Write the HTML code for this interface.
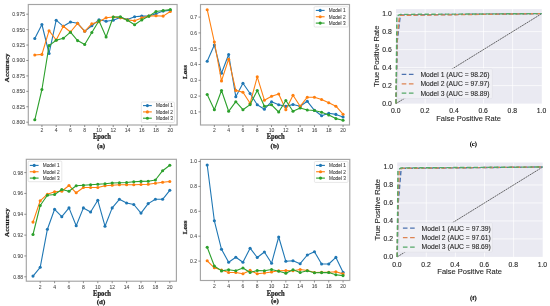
<!DOCTYPE html>
<html><head><meta charset="utf-8"><title>Figure</title>
<style>
html,body{margin:0;padding:0;background:#fff;}
body{width:550px;height:306px;overflow:hidden;}
svg{display:block;filter:blur(0.35px);}
.tk{font-family:"Liberation Sans",sans-serif;font-size:5.05px;fill:#404040;stroke:#404040;stroke-width:0.04px;}
.lg{font-family:"Liberation Sans",sans-serif;font-size:4.75px;fill:#333;stroke:#333;stroke-width:0.06px;}
.al{font-family:"Liberation Serif",serif;font-weight:bold;font-size:7.1px;fill:#1c1c1c;stroke:#1c1c1c;stroke-width:0.22px;}
.cap{font-family:"Liberation Serif",serif;font-weight:bold;font-size:7px;fill:#1c1c1c;stroke:#1c1c1c;stroke-width:0.25px;}
.cap2{font-family:"Liberation Serif",serif;font-weight:bold;font-size:6.6px;fill:#000;stroke:#000;stroke-width:0.12px;}
.rt{font-family:"Liberation Sans",sans-serif;font-size:6.8px;fill:#262626;stroke:#262626;stroke-width:0.12px;}
.ra{font-family:"Liberation Sans",sans-serif;font-size:7.5px;fill:#262626;stroke:#262626;stroke-width:0.1px;}
.rl{font-family:"Liberation Sans",sans-serif;font-size:6.75px;fill:#262626;stroke:#262626;stroke-width:0.1px;}
</style></head>
<body>
<svg width="550" height="306" viewBox="0 0 550 306">
<polyline points="34.8,38.5 41.93,24.5 49.06,53.5 56.19,20.2 63.32,26.3 70.45,22 77.58,23.3 84.71,31.2 91.84,25.8 98.97,19.7 106.1,21.2 113.23,20.3 120.36,17.6 127.49,19.6 134.62,16.7 141.75,16.1 148.88,16.1 156.01,13.7 163.14,11.1 170.27,10.2" fill="none" stroke="#1f77b4" stroke-width="1.1" stroke-linejoin="round"/>
<circle cx="34.8" cy="38.5" r="1.55" fill="#1f77b4"/>
<circle cx="41.93" cy="24.5" r="1.55" fill="#1f77b4"/>
<circle cx="49.06" cy="53.5" r="1.55" fill="#1f77b4"/>
<circle cx="56.19" cy="20.2" r="1.55" fill="#1f77b4"/>
<circle cx="63.32" cy="26.3" r="1.55" fill="#1f77b4"/>
<circle cx="70.45" cy="22" r="1.55" fill="#1f77b4"/>
<circle cx="77.58" cy="23.3" r="1.55" fill="#1f77b4"/>
<circle cx="84.71" cy="31.2" r="1.55" fill="#1f77b4"/>
<circle cx="91.84" cy="25.8" r="1.55" fill="#1f77b4"/>
<circle cx="98.97" cy="19.7" r="1.55" fill="#1f77b4"/>
<circle cx="106.1" cy="21.2" r="1.55" fill="#1f77b4"/>
<circle cx="113.23" cy="20.3" r="1.55" fill="#1f77b4"/>
<circle cx="120.36" cy="17.6" r="1.55" fill="#1f77b4"/>
<circle cx="127.49" cy="19.6" r="1.55" fill="#1f77b4"/>
<circle cx="134.62" cy="16.7" r="1.55" fill="#1f77b4"/>
<circle cx="141.75" cy="16.1" r="1.55" fill="#1f77b4"/>
<circle cx="148.88" cy="16.1" r="1.55" fill="#1f77b4"/>
<circle cx="156.01" cy="13.7" r="1.55" fill="#1f77b4"/>
<circle cx="163.14" cy="11.1" r="1.55" fill="#1f77b4"/>
<circle cx="170.27" cy="10.2" r="1.55" fill="#1f77b4"/>
<polyline points="34.8,55 41.93,54.4 49.06,30.7 56.19,40 63.32,26.2 70.45,32 77.58,23.3 84.71,31.3 91.84,23.7 98.97,21.7 106.1,17.8 113.23,17 120.36,17.8 127.49,19.9 134.62,20.7 141.75,17.9 148.88,16.1 156.01,15.7 163.14,16.1 170.27,11.5" fill="none" stroke="#ff7f0e" stroke-width="1.1" stroke-linejoin="round"/>
<circle cx="34.8" cy="55" r="1.55" fill="#ff7f0e"/>
<circle cx="41.93" cy="54.4" r="1.55" fill="#ff7f0e"/>
<circle cx="49.06" cy="30.7" r="1.55" fill="#ff7f0e"/>
<circle cx="56.19" cy="40" r="1.55" fill="#ff7f0e"/>
<circle cx="63.32" cy="26.2" r="1.55" fill="#ff7f0e"/>
<circle cx="70.45" cy="32" r="1.55" fill="#ff7f0e"/>
<circle cx="77.58" cy="23.3" r="1.55" fill="#ff7f0e"/>
<circle cx="84.71" cy="31.3" r="1.55" fill="#ff7f0e"/>
<circle cx="91.84" cy="23.7" r="1.55" fill="#ff7f0e"/>
<circle cx="98.97" cy="21.7" r="1.55" fill="#ff7f0e"/>
<circle cx="106.1" cy="17.8" r="1.55" fill="#ff7f0e"/>
<circle cx="113.23" cy="17" r="1.55" fill="#ff7f0e"/>
<circle cx="120.36" cy="17.8" r="1.55" fill="#ff7f0e"/>
<circle cx="127.49" cy="19.9" r="1.55" fill="#ff7f0e"/>
<circle cx="134.62" cy="20.7" r="1.55" fill="#ff7f0e"/>
<circle cx="141.75" cy="17.9" r="1.55" fill="#ff7f0e"/>
<circle cx="148.88" cy="16.1" r="1.55" fill="#ff7f0e"/>
<circle cx="156.01" cy="15.7" r="1.55" fill="#ff7f0e"/>
<circle cx="163.14" cy="16.1" r="1.55" fill="#ff7f0e"/>
<circle cx="170.27" cy="11.5" r="1.55" fill="#ff7f0e"/>
<polyline points="34.8,119.8 41.93,89.5 49.06,45.6 56.19,40.3 63.32,38.3 70.45,32.2 77.58,40.6 84.71,44.5 91.84,32.5 98.97,20.8 106.1,37 113.23,17 120.36,16.7 127.49,20.3 134.62,24.8 141.75,19.9 148.88,16.1 156.01,11.5 163.14,10.5 170.27,9.5" fill="none" stroke="#2ca02c" stroke-width="1.1" stroke-linejoin="round"/>
<circle cx="34.8" cy="119.8" r="1.55" fill="#2ca02c"/>
<circle cx="41.93" cy="89.5" r="1.55" fill="#2ca02c"/>
<circle cx="49.06" cy="45.6" r="1.55" fill="#2ca02c"/>
<circle cx="56.19" cy="40.3" r="1.55" fill="#2ca02c"/>
<circle cx="63.32" cy="38.3" r="1.55" fill="#2ca02c"/>
<circle cx="70.45" cy="32.2" r="1.55" fill="#2ca02c"/>
<circle cx="77.58" cy="40.6" r="1.55" fill="#2ca02c"/>
<circle cx="84.71" cy="44.5" r="1.55" fill="#2ca02c"/>
<circle cx="91.84" cy="32.5" r="1.55" fill="#2ca02c"/>
<circle cx="98.97" cy="20.8" r="1.55" fill="#2ca02c"/>
<circle cx="106.1" cy="37" r="1.55" fill="#2ca02c"/>
<circle cx="113.23" cy="17" r="1.55" fill="#2ca02c"/>
<circle cx="120.36" cy="16.7" r="1.55" fill="#2ca02c"/>
<circle cx="127.49" cy="20.3" r="1.55" fill="#2ca02c"/>
<circle cx="134.62" cy="24.8" r="1.55" fill="#2ca02c"/>
<circle cx="141.75" cy="19.9" r="1.55" fill="#2ca02c"/>
<circle cx="148.88" cy="16.1" r="1.55" fill="#2ca02c"/>
<circle cx="156.01" cy="11.5" r="1.55" fill="#2ca02c"/>
<circle cx="163.14" cy="10.5" r="1.55" fill="#2ca02c"/>
<circle cx="170.27" cy="9.5" r="1.55" fill="#2ca02c"/>
<rect x="28.3" y="4.5" width="148.8" height="120.5" fill="none" stroke="#a4a4a4" stroke-width="1.15"/>
<line x1="26.3" y1="122.2" x2="28.3" y2="122.2" stroke="#7a7a7a" stroke-width="0.85"/>
<text x="25" y="124.1" text-anchor="end" class="tk">0.800</text>
<line x1="26.3" y1="106.77" x2="28.3" y2="106.77" stroke="#7a7a7a" stroke-width="0.85"/>
<text x="25" y="108.67" text-anchor="end" class="tk">0.825</text>
<line x1="26.3" y1="91.34" x2="28.3" y2="91.34" stroke="#7a7a7a" stroke-width="0.85"/>
<text x="25" y="93.24" text-anchor="end" class="tk">0.850</text>
<line x1="26.3" y1="75.91" x2="28.3" y2="75.91" stroke="#7a7a7a" stroke-width="0.85"/>
<text x="25" y="77.81" text-anchor="end" class="tk">0.875</text>
<line x1="26.3" y1="60.48" x2="28.3" y2="60.48" stroke="#7a7a7a" stroke-width="0.85"/>
<text x="25" y="62.38" text-anchor="end" class="tk">0.900</text>
<line x1="26.3" y1="45.05" x2="28.3" y2="45.05" stroke="#7a7a7a" stroke-width="0.85"/>
<text x="25" y="46.95" text-anchor="end" class="tk">0.925</text>
<line x1="26.3" y1="29.62" x2="28.3" y2="29.62" stroke="#7a7a7a" stroke-width="0.85"/>
<text x="25" y="31.52" text-anchor="end" class="tk">0.950</text>
<line x1="26.3" y1="14.19" x2="28.3" y2="14.19" stroke="#7a7a7a" stroke-width="0.85"/>
<text x="25" y="16.09" text-anchor="end" class="tk">0.975</text>
<line x1="41.93" y1="125" x2="41.93" y2="127" stroke="#7a7a7a" stroke-width="0.85"/>
<text x="41.93" y="132.1" text-anchor="middle" class="tk">2</text>
<line x1="56.19" y1="125" x2="56.19" y2="127" stroke="#7a7a7a" stroke-width="0.85"/>
<text x="56.19" y="132.1" text-anchor="middle" class="tk">4</text>
<line x1="70.45" y1="125" x2="70.45" y2="127" stroke="#7a7a7a" stroke-width="0.85"/>
<text x="70.45" y="132.1" text-anchor="middle" class="tk">6</text>
<line x1="84.71" y1="125" x2="84.71" y2="127" stroke="#7a7a7a" stroke-width="0.85"/>
<text x="84.71" y="132.1" text-anchor="middle" class="tk">8</text>
<line x1="98.97" y1="125" x2="98.97" y2="127" stroke="#7a7a7a" stroke-width="0.85"/>
<text x="98.97" y="132.1" text-anchor="middle" class="tk">10</text>
<line x1="113.23" y1="125" x2="113.23" y2="127" stroke="#7a7a7a" stroke-width="0.85"/>
<text x="113.23" y="132.1" text-anchor="middle" class="tk">12</text>
<line x1="127.49" y1="125" x2="127.49" y2="127" stroke="#7a7a7a" stroke-width="0.85"/>
<text x="127.49" y="132.1" text-anchor="middle" class="tk">14</text>
<line x1="141.75" y1="125" x2="141.75" y2="127" stroke="#7a7a7a" stroke-width="0.85"/>
<text x="141.75" y="132.1" text-anchor="middle" class="tk">16</text>
<line x1="156.01" y1="125" x2="156.01" y2="127" stroke="#7a7a7a" stroke-width="0.85"/>
<text x="156.01" y="132.1" text-anchor="middle" class="tk">18</text>
<line x1="170.27" y1="125" x2="170.27" y2="127" stroke="#7a7a7a" stroke-width="0.85"/>
<text x="170.27" y="132.1" text-anchor="middle" class="tk">20</text>
<text transform="translate(101.9,139.3) scale(1,1.12)" text-anchor="middle" class="al" style="font-size:6.6px">Epoch</text>
<text x="101.1" y="147.6" text-anchor="middle" class="cap">(a)</text>
<text transform="translate(8.6,67.8) rotate(-90)" text-anchor="middle" class="al">Accuracy</text>
<rect x="141.3" y="102" width="33.1" height="20.5" rx="1" fill="#fff" fill-opacity="0.85" stroke="#d6d6d6" stroke-width="0.6"/>
<line x1="143" y1="105.6" x2="151.8" y2="105.6" stroke="#1f77b4" stroke-width="1.1"/>
<circle cx="147.4" cy="105.6" r="1.55" fill="#1f77b4"/>
<text x="155.9" y="107.4" class="lg">Model 1</text>
<line x1="143" y1="111.9" x2="151.8" y2="111.9" stroke="#ff7f0e" stroke-width="1.1"/>
<circle cx="147.4" cy="111.9" r="1.55" fill="#ff7f0e"/>
<text x="155.9" y="113.7" class="lg">Model 2</text>
<line x1="143" y1="118.2" x2="151.8" y2="118.2" stroke="#2ca02c" stroke-width="1.1"/>
<circle cx="147.4" cy="118.2" r="1.55" fill="#2ca02c"/>
<text x="155.9" y="120" class="lg">Model 3</text>
<polyline points="207.2,61.2 214.35,45 221.5,73.3 228.65,54.5 235.8,96.7 242.95,83.2 250.1,93.5 257.25,104.7 264.4,109.2 271.55,101.7 278.7,104.7 285.85,106.4 293,104.5 300.15,106.3 307.3,101.3 314.45,110.3 321.6,115.8 328.75,113.2 335.9,114.4 343.05,116.9" fill="none" stroke="#1f77b4" stroke-width="1.1" stroke-linejoin="round"/>
<circle cx="207.2" cy="61.2" r="1.55" fill="#1f77b4"/>
<circle cx="214.35" cy="45" r="1.55" fill="#1f77b4"/>
<circle cx="221.5" cy="73.3" r="1.55" fill="#1f77b4"/>
<circle cx="228.65" cy="54.5" r="1.55" fill="#1f77b4"/>
<circle cx="235.8" cy="96.7" r="1.55" fill="#1f77b4"/>
<circle cx="242.95" cy="83.2" r="1.55" fill="#1f77b4"/>
<circle cx="250.1" cy="93.5" r="1.55" fill="#1f77b4"/>
<circle cx="257.25" cy="104.7" r="1.55" fill="#1f77b4"/>
<circle cx="264.4" cy="109.2" r="1.55" fill="#1f77b4"/>
<circle cx="271.55" cy="101.7" r="1.55" fill="#1f77b4"/>
<circle cx="278.7" cy="104.7" r="1.55" fill="#1f77b4"/>
<circle cx="285.85" cy="106.4" r="1.55" fill="#1f77b4"/>
<circle cx="293" cy="104.5" r="1.55" fill="#1f77b4"/>
<circle cx="300.15" cy="106.3" r="1.55" fill="#1f77b4"/>
<circle cx="307.3" cy="101.3" r="1.55" fill="#1f77b4"/>
<circle cx="314.45" cy="110.3" r="1.55" fill="#1f77b4"/>
<circle cx="321.6" cy="115.8" r="1.55" fill="#1f77b4"/>
<circle cx="328.75" cy="113.2" r="1.55" fill="#1f77b4"/>
<circle cx="335.9" cy="114.4" r="1.55" fill="#1f77b4"/>
<circle cx="343.05" cy="116.9" r="1.55" fill="#1f77b4"/>
<polyline points="207.2,9.7 214.35,42 221.5,80.9 228.65,59.2 235.8,90.4 242.95,92.2 250.1,103.3 257.25,76.8 264.4,100.2 271.55,96.2 278.7,94 285.85,109.7 293,95.2 300.15,106.3 307.3,97.2 314.45,97.2 321.6,99.5 328.75,102.7 335.9,106.2 343.05,114.2" fill="none" stroke="#ff7f0e" stroke-width="1.1" stroke-linejoin="round"/>
<circle cx="207.2" cy="9.7" r="1.55" fill="#ff7f0e"/>
<circle cx="214.35" cy="42" r="1.55" fill="#ff7f0e"/>
<circle cx="221.5" cy="80.9" r="1.55" fill="#ff7f0e"/>
<circle cx="228.65" cy="59.2" r="1.55" fill="#ff7f0e"/>
<circle cx="235.8" cy="90.4" r="1.55" fill="#ff7f0e"/>
<circle cx="242.95" cy="92.2" r="1.55" fill="#ff7f0e"/>
<circle cx="250.1" cy="103.3" r="1.55" fill="#ff7f0e"/>
<circle cx="257.25" cy="76.8" r="1.55" fill="#ff7f0e"/>
<circle cx="264.4" cy="100.2" r="1.55" fill="#ff7f0e"/>
<circle cx="271.55" cy="96.2" r="1.55" fill="#ff7f0e"/>
<circle cx="278.7" cy="94" r="1.55" fill="#ff7f0e"/>
<circle cx="285.85" cy="109.7" r="1.55" fill="#ff7f0e"/>
<circle cx="293" cy="95.2" r="1.55" fill="#ff7f0e"/>
<circle cx="300.15" cy="106.3" r="1.55" fill="#ff7f0e"/>
<circle cx="307.3" cy="97.2" r="1.55" fill="#ff7f0e"/>
<circle cx="314.45" cy="97.2" r="1.55" fill="#ff7f0e"/>
<circle cx="321.6" cy="99.5" r="1.55" fill="#ff7f0e"/>
<circle cx="328.75" cy="102.7" r="1.55" fill="#ff7f0e"/>
<circle cx="335.9" cy="106.2" r="1.55" fill="#ff7f0e"/>
<circle cx="343.05" cy="114.2" r="1.55" fill="#ff7f0e"/>
<polyline points="207.2,94.5 214.35,109.8 221.5,90.5 228.65,111.3 235.8,101.7 242.95,109.7 250.1,104.6 257.25,90.5 264.4,106.3 271.55,104.8 278.7,112 285.85,100.5 293,111.3 300.15,108 307.3,110 314.45,110.5 321.6,112.3 328.75,115 335.9,118.6 343.05,120.2" fill="none" stroke="#2ca02c" stroke-width="1.1" stroke-linejoin="round"/>
<circle cx="207.2" cy="94.5" r="1.55" fill="#2ca02c"/>
<circle cx="214.35" cy="109.8" r="1.55" fill="#2ca02c"/>
<circle cx="221.5" cy="90.5" r="1.55" fill="#2ca02c"/>
<circle cx="228.65" cy="111.3" r="1.55" fill="#2ca02c"/>
<circle cx="235.8" cy="101.7" r="1.55" fill="#2ca02c"/>
<circle cx="242.95" cy="109.7" r="1.55" fill="#2ca02c"/>
<circle cx="250.1" cy="104.6" r="1.55" fill="#2ca02c"/>
<circle cx="257.25" cy="90.5" r="1.55" fill="#2ca02c"/>
<circle cx="264.4" cy="106.3" r="1.55" fill="#2ca02c"/>
<circle cx="271.55" cy="104.8" r="1.55" fill="#2ca02c"/>
<circle cx="278.7" cy="112" r="1.55" fill="#2ca02c"/>
<circle cx="285.85" cy="100.5" r="1.55" fill="#2ca02c"/>
<circle cx="293" cy="111.3" r="1.55" fill="#2ca02c"/>
<circle cx="300.15" cy="108" r="1.55" fill="#2ca02c"/>
<circle cx="307.3" cy="110" r="1.55" fill="#2ca02c"/>
<circle cx="314.45" cy="110.5" r="1.55" fill="#2ca02c"/>
<circle cx="321.6" cy="112.3" r="1.55" fill="#2ca02c"/>
<circle cx="328.75" cy="115" r="1.55" fill="#2ca02c"/>
<circle cx="335.9" cy="118.6" r="1.55" fill="#2ca02c"/>
<circle cx="343.05" cy="120.2" r="1.55" fill="#2ca02c"/>
<rect x="200.5" y="4.5" width="149" height="120.5" fill="none" stroke="#a4a4a4" stroke-width="1.15"/>
<line x1="198.5" y1="111.9" x2="200.5" y2="111.9" stroke="#7a7a7a" stroke-width="0.85"/>
<text x="197.2" y="113.8" text-anchor="end" class="tk">0.1</text>
<line x1="198.5" y1="96.1" x2="200.5" y2="96.1" stroke="#7a7a7a" stroke-width="0.85"/>
<text x="197.2" y="98" text-anchor="end" class="tk">0.2</text>
<line x1="198.5" y1="80.3" x2="200.5" y2="80.3" stroke="#7a7a7a" stroke-width="0.85"/>
<text x="197.2" y="82.2" text-anchor="end" class="tk">0.3</text>
<line x1="198.5" y1="64.5" x2="200.5" y2="64.5" stroke="#7a7a7a" stroke-width="0.85"/>
<text x="197.2" y="66.4" text-anchor="end" class="tk">0.4</text>
<line x1="198.5" y1="48.7" x2="200.5" y2="48.7" stroke="#7a7a7a" stroke-width="0.85"/>
<text x="197.2" y="50.6" text-anchor="end" class="tk">0.5</text>
<line x1="198.5" y1="32.9" x2="200.5" y2="32.9" stroke="#7a7a7a" stroke-width="0.85"/>
<text x="197.2" y="34.8" text-anchor="end" class="tk">0.6</text>
<line x1="198.5" y1="17.1" x2="200.5" y2="17.1" stroke="#7a7a7a" stroke-width="0.85"/>
<text x="197.2" y="19" text-anchor="end" class="tk">0.7</text>
<line x1="214.35" y1="125" x2="214.35" y2="127" stroke="#7a7a7a" stroke-width="0.85"/>
<text x="214.35" y="132.1" text-anchor="middle" class="tk">2</text>
<line x1="228.65" y1="125" x2="228.65" y2="127" stroke="#7a7a7a" stroke-width="0.85"/>
<text x="228.65" y="132.1" text-anchor="middle" class="tk">4</text>
<line x1="242.95" y1="125" x2="242.95" y2="127" stroke="#7a7a7a" stroke-width="0.85"/>
<text x="242.95" y="132.1" text-anchor="middle" class="tk">6</text>
<line x1="257.25" y1="125" x2="257.25" y2="127" stroke="#7a7a7a" stroke-width="0.85"/>
<text x="257.25" y="132.1" text-anchor="middle" class="tk">8</text>
<line x1="271.55" y1="125" x2="271.55" y2="127" stroke="#7a7a7a" stroke-width="0.85"/>
<text x="271.55" y="132.1" text-anchor="middle" class="tk">10</text>
<line x1="285.85" y1="125" x2="285.85" y2="127" stroke="#7a7a7a" stroke-width="0.85"/>
<text x="285.85" y="132.1" text-anchor="middle" class="tk">12</text>
<line x1="300.15" y1="125" x2="300.15" y2="127" stroke="#7a7a7a" stroke-width="0.85"/>
<text x="300.15" y="132.1" text-anchor="middle" class="tk">14</text>
<line x1="314.45" y1="125" x2="314.45" y2="127" stroke="#7a7a7a" stroke-width="0.85"/>
<text x="314.45" y="132.1" text-anchor="middle" class="tk">16</text>
<line x1="328.75" y1="125" x2="328.75" y2="127" stroke="#7a7a7a" stroke-width="0.85"/>
<text x="328.75" y="132.1" text-anchor="middle" class="tk">18</text>
<line x1="343.05" y1="125" x2="343.05" y2="127" stroke="#7a7a7a" stroke-width="0.85"/>
<text x="343.05" y="132.1" text-anchor="middle" class="tk">20</text>
<text transform="translate(275.7,139.3) scale(1,1.12)" text-anchor="middle" class="al" style="font-size:6.6px">Epoch</text>
<text x="274.9" y="147.8" text-anchor="middle" class="cap">(b)</text>
<text transform="translate(186.6,72) rotate(-90)" text-anchor="middle" class="al">Loss</text>
<rect x="314.1" y="6.7" width="34.2" height="20.3" rx="1" fill="#fff" fill-opacity="0.85" stroke="#d6d6d6" stroke-width="0.6"/>
<line x1="315.8" y1="10.4" x2="324.6" y2="10.4" stroke="#1f77b4" stroke-width="1.1"/>
<circle cx="320.2" cy="10.4" r="1.55" fill="#1f77b4"/>
<text x="328.7" y="12.2" class="lg">Model 1</text>
<line x1="315.8" y1="16.75" x2="324.6" y2="16.75" stroke="#ff7f0e" stroke-width="1.1"/>
<circle cx="320.2" cy="16.75" r="1.55" fill="#ff7f0e"/>
<text x="328.7" y="18.55" class="lg">Model 2</text>
<line x1="315.8" y1="23.1" x2="324.6" y2="23.1" stroke="#2ca02c" stroke-width="1.1"/>
<circle cx="320.2" cy="23.1" r="1.55" fill="#2ca02c"/>
<text x="328.7" y="24.9" class="lg">Model 3</text>
<polyline points="33,276.1 40.2,267.3 47.4,229.2 54.6,209.3 61.8,216.7 69,207.9 76.2,225.8 83.4,207.9 90.6,212 97.8,200.3 105,226.2 112.2,207.9 119.4,199.3 126.6,203 133.8,204.5 141,213.1 148.2,203.6 155.4,199.2 162.6,199.3 169.8,190.3" fill="none" stroke="#1f77b4" stroke-width="1.1" stroke-linejoin="round"/>
<circle cx="33" cy="276.1" r="1.55" fill="#1f77b4"/>
<circle cx="40.2" cy="267.3" r="1.55" fill="#1f77b4"/>
<circle cx="47.4" cy="229.2" r="1.55" fill="#1f77b4"/>
<circle cx="54.6" cy="209.3" r="1.55" fill="#1f77b4"/>
<circle cx="61.8" cy="216.7" r="1.55" fill="#1f77b4"/>
<circle cx="69" cy="207.9" r="1.55" fill="#1f77b4"/>
<circle cx="76.2" cy="225.8" r="1.55" fill="#1f77b4"/>
<circle cx="83.4" cy="207.9" r="1.55" fill="#1f77b4"/>
<circle cx="90.6" cy="212" r="1.55" fill="#1f77b4"/>
<circle cx="97.8" cy="200.3" r="1.55" fill="#1f77b4"/>
<circle cx="105" cy="226.2" r="1.55" fill="#1f77b4"/>
<circle cx="112.2" cy="207.9" r="1.55" fill="#1f77b4"/>
<circle cx="119.4" cy="199.3" r="1.55" fill="#1f77b4"/>
<circle cx="126.6" cy="203" r="1.55" fill="#1f77b4"/>
<circle cx="133.8" cy="204.5" r="1.55" fill="#1f77b4"/>
<circle cx="141" cy="213.1" r="1.55" fill="#1f77b4"/>
<circle cx="148.2" cy="203.6" r="1.55" fill="#1f77b4"/>
<circle cx="155.4" cy="199.2" r="1.55" fill="#1f77b4"/>
<circle cx="162.6" cy="199.3" r="1.55" fill="#1f77b4"/>
<circle cx="169.8" cy="190.3" r="1.55" fill="#1f77b4"/>
<polyline points="33,222.1 40.2,200.8 47.4,194.2 54.6,191.7 61.8,191.2 69,185.5 76.2,192.8 83.4,187.5 90.6,187.5 97.8,187.5 105,185.8 112.2,185.3 119.4,184.7 126.6,184.7 133.8,184.7 141,184.5 148.2,184.2 155.4,183.2 162.6,182.2 169.8,181.5" fill="none" stroke="#ff7f0e" stroke-width="1.1" stroke-linejoin="round"/>
<circle cx="33" cy="222.1" r="1.55" fill="#ff7f0e"/>
<circle cx="40.2" cy="200.8" r="1.55" fill="#ff7f0e"/>
<circle cx="47.4" cy="194.2" r="1.55" fill="#ff7f0e"/>
<circle cx="54.6" cy="191.7" r="1.55" fill="#ff7f0e"/>
<circle cx="61.8" cy="191.2" r="1.55" fill="#ff7f0e"/>
<circle cx="69" cy="185.5" r="1.55" fill="#ff7f0e"/>
<circle cx="76.2" cy="192.8" r="1.55" fill="#ff7f0e"/>
<circle cx="83.4" cy="187.5" r="1.55" fill="#ff7f0e"/>
<circle cx="90.6" cy="187.5" r="1.55" fill="#ff7f0e"/>
<circle cx="97.8" cy="187.5" r="1.55" fill="#ff7f0e"/>
<circle cx="105" cy="185.8" r="1.55" fill="#ff7f0e"/>
<circle cx="112.2" cy="185.3" r="1.55" fill="#ff7f0e"/>
<circle cx="119.4" cy="184.7" r="1.55" fill="#ff7f0e"/>
<circle cx="126.6" cy="184.7" r="1.55" fill="#ff7f0e"/>
<circle cx="133.8" cy="184.7" r="1.55" fill="#ff7f0e"/>
<circle cx="141" cy="184.5" r="1.55" fill="#ff7f0e"/>
<circle cx="148.2" cy="184.2" r="1.55" fill="#ff7f0e"/>
<circle cx="155.4" cy="183.2" r="1.55" fill="#ff7f0e"/>
<circle cx="162.6" cy="182.2" r="1.55" fill="#ff7f0e"/>
<circle cx="169.8" cy="181.5" r="1.55" fill="#ff7f0e"/>
<polyline points="33,234.5 40.2,205.5 47.4,195.3 54.6,194.5 61.8,189.5 69,191.2 76.2,185.8 83.4,185.3 90.6,184.7 97.8,184.2 105,183.7 112.2,183 119.4,182.7 126.6,182.5 133.8,181.7 141,181.4 148.2,181.3 155.4,180 162.6,170.7 169.8,165.2" fill="none" stroke="#2ca02c" stroke-width="1.1" stroke-linejoin="round"/>
<circle cx="33" cy="234.5" r="1.55" fill="#2ca02c"/>
<circle cx="40.2" cy="205.5" r="1.55" fill="#2ca02c"/>
<circle cx="47.4" cy="195.3" r="1.55" fill="#2ca02c"/>
<circle cx="54.6" cy="194.5" r="1.55" fill="#2ca02c"/>
<circle cx="61.8" cy="189.5" r="1.55" fill="#2ca02c"/>
<circle cx="69" cy="191.2" r="1.55" fill="#2ca02c"/>
<circle cx="76.2" cy="185.8" r="1.55" fill="#2ca02c"/>
<circle cx="83.4" cy="185.3" r="1.55" fill="#2ca02c"/>
<circle cx="90.6" cy="184.7" r="1.55" fill="#2ca02c"/>
<circle cx="97.8" cy="184.2" r="1.55" fill="#2ca02c"/>
<circle cx="105" cy="183.7" r="1.55" fill="#2ca02c"/>
<circle cx="112.2" cy="183" r="1.55" fill="#2ca02c"/>
<circle cx="119.4" cy="182.7" r="1.55" fill="#2ca02c"/>
<circle cx="126.6" cy="182.5" r="1.55" fill="#2ca02c"/>
<circle cx="133.8" cy="181.7" r="1.55" fill="#2ca02c"/>
<circle cx="141" cy="181.4" r="1.55" fill="#2ca02c"/>
<circle cx="148.2" cy="181.3" r="1.55" fill="#2ca02c"/>
<circle cx="155.4" cy="180" r="1.55" fill="#2ca02c"/>
<circle cx="162.6" cy="170.7" r="1.55" fill="#2ca02c"/>
<circle cx="169.8" cy="165.2" r="1.55" fill="#2ca02c"/>
<rect x="26.3" y="159.3" width="150.1" height="121.9" fill="none" stroke="#a4a4a4" stroke-width="1.15"/>
<line x1="24.3" y1="276.8" x2="26.3" y2="276.8" stroke="#7a7a7a" stroke-width="0.85"/>
<text x="23" y="278.7" text-anchor="end" class="tk">0.88</text>
<line x1="24.3" y1="255.96" x2="26.3" y2="255.96" stroke="#7a7a7a" stroke-width="0.85"/>
<text x="23" y="257.86" text-anchor="end" class="tk">0.90</text>
<line x1="24.3" y1="235.12" x2="26.3" y2="235.12" stroke="#7a7a7a" stroke-width="0.85"/>
<text x="23" y="237.02" text-anchor="end" class="tk">0.92</text>
<line x1="24.3" y1="214.28" x2="26.3" y2="214.28" stroke="#7a7a7a" stroke-width="0.85"/>
<text x="23" y="216.18" text-anchor="end" class="tk">0.94</text>
<line x1="24.3" y1="193.44" x2="26.3" y2="193.44" stroke="#7a7a7a" stroke-width="0.85"/>
<text x="23" y="195.34" text-anchor="end" class="tk">0.96</text>
<line x1="24.3" y1="172.6" x2="26.3" y2="172.6" stroke="#7a7a7a" stroke-width="0.85"/>
<text x="23" y="174.5" text-anchor="end" class="tk">0.98</text>
<line x1="40.2" y1="281.2" x2="40.2" y2="283.2" stroke="#7a7a7a" stroke-width="0.85"/>
<text x="40.2" y="288.8" text-anchor="middle" class="tk">2</text>
<line x1="54.6" y1="281.2" x2="54.6" y2="283.2" stroke="#7a7a7a" stroke-width="0.85"/>
<text x="54.6" y="288.8" text-anchor="middle" class="tk">4</text>
<line x1="69" y1="281.2" x2="69" y2="283.2" stroke="#7a7a7a" stroke-width="0.85"/>
<text x="69" y="288.8" text-anchor="middle" class="tk">6</text>
<line x1="83.4" y1="281.2" x2="83.4" y2="283.2" stroke="#7a7a7a" stroke-width="0.85"/>
<text x="83.4" y="288.8" text-anchor="middle" class="tk">8</text>
<line x1="97.8" y1="281.2" x2="97.8" y2="283.2" stroke="#7a7a7a" stroke-width="0.85"/>
<text x="97.8" y="288.8" text-anchor="middle" class="tk">10</text>
<line x1="112.2" y1="281.2" x2="112.2" y2="283.2" stroke="#7a7a7a" stroke-width="0.85"/>
<text x="112.2" y="288.8" text-anchor="middle" class="tk">12</text>
<line x1="126.6" y1="281.2" x2="126.6" y2="283.2" stroke="#7a7a7a" stroke-width="0.85"/>
<text x="126.6" y="288.8" text-anchor="middle" class="tk">14</text>
<line x1="141" y1="281.2" x2="141" y2="283.2" stroke="#7a7a7a" stroke-width="0.85"/>
<text x="141" y="288.8" text-anchor="middle" class="tk">16</text>
<line x1="155.4" y1="281.2" x2="155.4" y2="283.2" stroke="#7a7a7a" stroke-width="0.85"/>
<text x="155.4" y="288.8" text-anchor="middle" class="tk">18</text>
<line x1="169.8" y1="281.2" x2="169.8" y2="283.2" stroke="#7a7a7a" stroke-width="0.85"/>
<text x="169.8" y="288.8" text-anchor="middle" class="tk">20</text>
<text transform="translate(102,295.8) scale(1,1.12)" text-anchor="middle" class="al" style="font-size:6.6px">Epoch</text>
<text x="101.05" y="304" text-anchor="middle" class="cap">(d)</text>
<text transform="translate(8.8,222.6) rotate(-90)" text-anchor="middle" class="al">Accuracy</text>
<rect x="28.1" y="161.1" width="33.7" height="20.6" rx="1" fill="#fff" fill-opacity="0.85" stroke="#d6d6d6" stroke-width="0.6"/>
<line x1="29.8" y1="165.4" x2="38.6" y2="165.4" stroke="#1f77b4" stroke-width="1.1"/>
<circle cx="34.2" cy="165.4" r="1.55" fill="#1f77b4"/>
<text x="42.7" y="167.2" class="lg">Model 1</text>
<line x1="29.8" y1="171.75" x2="38.6" y2="171.75" stroke="#ff7f0e" stroke-width="1.1"/>
<circle cx="34.2" cy="171.75" r="1.55" fill="#ff7f0e"/>
<text x="42.7" y="173.55" class="lg">Model 2</text>
<line x1="29.8" y1="178.1" x2="38.6" y2="178.1" stroke="#2ca02c" stroke-width="1.1"/>
<circle cx="34.2" cy="178.1" r="1.55" fill="#2ca02c"/>
<text x="42.7" y="179.9" class="lg">Model 3</text>
<polyline points="207.2,165 214.35,220.8 221.5,249.3 228.65,262.2 235.8,257.2 242.95,262.2 250.1,248.2 257.25,257.5 264.4,252 271.55,263.3 278.7,237 285.85,261.3 293,260.8 300.15,263.7 307.3,255 314.45,251.7 321.6,264 328.75,264 335.9,257.4 343.05,272.2" fill="none" stroke="#1f77b4" stroke-width="1.1" stroke-linejoin="round"/>
<circle cx="207.2" cy="165" r="1.55" fill="#1f77b4"/>
<circle cx="214.35" cy="220.8" r="1.55" fill="#1f77b4"/>
<circle cx="221.5" cy="249.3" r="1.55" fill="#1f77b4"/>
<circle cx="228.65" cy="262.2" r="1.55" fill="#1f77b4"/>
<circle cx="235.8" cy="257.2" r="1.55" fill="#1f77b4"/>
<circle cx="242.95" cy="262.2" r="1.55" fill="#1f77b4"/>
<circle cx="250.1" cy="248.2" r="1.55" fill="#1f77b4"/>
<circle cx="257.25" cy="257.5" r="1.55" fill="#1f77b4"/>
<circle cx="264.4" cy="252" r="1.55" fill="#1f77b4"/>
<circle cx="271.55" cy="263.3" r="1.55" fill="#1f77b4"/>
<circle cx="278.7" cy="237" r="1.55" fill="#1f77b4"/>
<circle cx="285.85" cy="261.3" r="1.55" fill="#1f77b4"/>
<circle cx="293" cy="260.8" r="1.55" fill="#1f77b4"/>
<circle cx="300.15" cy="263.7" r="1.55" fill="#1f77b4"/>
<circle cx="307.3" cy="255" r="1.55" fill="#1f77b4"/>
<circle cx="314.45" cy="251.7" r="1.55" fill="#1f77b4"/>
<circle cx="321.6" cy="264" r="1.55" fill="#1f77b4"/>
<circle cx="328.75" cy="264" r="1.55" fill="#1f77b4"/>
<circle cx="335.9" cy="257.4" r="1.55" fill="#1f77b4"/>
<circle cx="343.05" cy="272.2" r="1.55" fill="#1f77b4"/>
<polyline points="207.2,260.8 214.35,267.8 221.5,270.1 228.65,272.5 235.8,272.5 242.95,273.8 250.1,270.4 257.25,273.7 264.4,273 271.55,272 278.7,270.8 285.85,270.5 293,270.8 300.15,269.5 307.3,270.5 314.45,272.5 321.6,272.3 328.75,272.3 335.9,271.7 343.05,273.9" fill="none" stroke="#ff7f0e" stroke-width="1.1" stroke-linejoin="round"/>
<circle cx="207.2" cy="260.8" r="1.55" fill="#ff7f0e"/>
<circle cx="214.35" cy="267.8" r="1.55" fill="#ff7f0e"/>
<circle cx="221.5" cy="270.1" r="1.55" fill="#ff7f0e"/>
<circle cx="228.65" cy="272.5" r="1.55" fill="#ff7f0e"/>
<circle cx="235.8" cy="272.5" r="1.55" fill="#ff7f0e"/>
<circle cx="242.95" cy="273.8" r="1.55" fill="#ff7f0e"/>
<circle cx="250.1" cy="270.4" r="1.55" fill="#ff7f0e"/>
<circle cx="257.25" cy="273.7" r="1.55" fill="#ff7f0e"/>
<circle cx="264.4" cy="273" r="1.55" fill="#ff7f0e"/>
<circle cx="271.55" cy="272" r="1.55" fill="#ff7f0e"/>
<circle cx="278.7" cy="270.8" r="1.55" fill="#ff7f0e"/>
<circle cx="285.85" cy="270.5" r="1.55" fill="#ff7f0e"/>
<circle cx="293" cy="270.8" r="1.55" fill="#ff7f0e"/>
<circle cx="300.15" cy="269.5" r="1.55" fill="#ff7f0e"/>
<circle cx="307.3" cy="270.5" r="1.55" fill="#ff7f0e"/>
<circle cx="314.45" cy="272.5" r="1.55" fill="#ff7f0e"/>
<circle cx="321.6" cy="272.3" r="1.55" fill="#ff7f0e"/>
<circle cx="328.75" cy="272.3" r="1.55" fill="#ff7f0e"/>
<circle cx="335.9" cy="271.7" r="1.55" fill="#ff7f0e"/>
<circle cx="343.05" cy="273.9" r="1.55" fill="#ff7f0e"/>
<polyline points="207.2,247.3 214.35,266 221.5,270.9 228.65,269.7 235.8,270.8 242.95,268 250.1,272.5 257.25,270.5 264.4,270.8 271.55,269.5 278.7,271.2 285.85,273.3 293,269.7 300.15,272.5 307.3,270.8 314.45,272.8 321.6,272.6 328.75,272.5 335.9,274.7 343.05,275.6" fill="none" stroke="#2ca02c" stroke-width="1.1" stroke-linejoin="round"/>
<circle cx="207.2" cy="247.3" r="1.55" fill="#2ca02c"/>
<circle cx="214.35" cy="266" r="1.55" fill="#2ca02c"/>
<circle cx="221.5" cy="270.9" r="1.55" fill="#2ca02c"/>
<circle cx="228.65" cy="269.7" r="1.55" fill="#2ca02c"/>
<circle cx="235.8" cy="270.8" r="1.55" fill="#2ca02c"/>
<circle cx="242.95" cy="268" r="1.55" fill="#2ca02c"/>
<circle cx="250.1" cy="272.5" r="1.55" fill="#2ca02c"/>
<circle cx="257.25" cy="270.5" r="1.55" fill="#2ca02c"/>
<circle cx="264.4" cy="270.8" r="1.55" fill="#2ca02c"/>
<circle cx="271.55" cy="269.5" r="1.55" fill="#2ca02c"/>
<circle cx="278.7" cy="271.2" r="1.55" fill="#2ca02c"/>
<circle cx="285.85" cy="273.3" r="1.55" fill="#2ca02c"/>
<circle cx="293" cy="269.7" r="1.55" fill="#2ca02c"/>
<circle cx="300.15" cy="272.5" r="1.55" fill="#2ca02c"/>
<circle cx="307.3" cy="270.8" r="1.55" fill="#2ca02c"/>
<circle cx="314.45" cy="272.8" r="1.55" fill="#2ca02c"/>
<circle cx="321.6" cy="272.6" r="1.55" fill="#2ca02c"/>
<circle cx="328.75" cy="272.5" r="1.55" fill="#2ca02c"/>
<circle cx="335.9" cy="274.7" r="1.55" fill="#2ca02c"/>
<circle cx="343.05" cy="275.6" r="1.55" fill="#2ca02c"/>
<rect x="200.4" y="159.4" width="149.4" height="121.1" fill="none" stroke="#a4a4a4" stroke-width="1.15"/>
<line x1="198.4" y1="261.1" x2="200.4" y2="261.1" stroke="#7a7a7a" stroke-width="0.85"/>
<text x="197.1" y="263" text-anchor="end" class="tk">0.2</text>
<line x1="198.4" y1="236.2" x2="200.4" y2="236.2" stroke="#7a7a7a" stroke-width="0.85"/>
<text x="197.1" y="238.1" text-anchor="end" class="tk">0.4</text>
<line x1="198.4" y1="211.3" x2="200.4" y2="211.3" stroke="#7a7a7a" stroke-width="0.85"/>
<text x="197.1" y="213.2" text-anchor="end" class="tk">0.6</text>
<line x1="198.4" y1="186.4" x2="200.4" y2="186.4" stroke="#7a7a7a" stroke-width="0.85"/>
<text x="197.1" y="188.3" text-anchor="end" class="tk">0.8</text>
<line x1="198.4" y1="161.5" x2="200.4" y2="161.5" stroke="#7a7a7a" stroke-width="0.85"/>
<text x="197.1" y="163.4" text-anchor="end" class="tk">1.0</text>
<line x1="214.35" y1="280.5" x2="214.35" y2="282.5" stroke="#7a7a7a" stroke-width="0.85"/>
<text x="214.35" y="288.1" text-anchor="middle" class="tk">2</text>
<line x1="228.65" y1="280.5" x2="228.65" y2="282.5" stroke="#7a7a7a" stroke-width="0.85"/>
<text x="228.65" y="288.1" text-anchor="middle" class="tk">4</text>
<line x1="242.95" y1="280.5" x2="242.95" y2="282.5" stroke="#7a7a7a" stroke-width="0.85"/>
<text x="242.95" y="288.1" text-anchor="middle" class="tk">6</text>
<line x1="257.25" y1="280.5" x2="257.25" y2="282.5" stroke="#7a7a7a" stroke-width="0.85"/>
<text x="257.25" y="288.1" text-anchor="middle" class="tk">8</text>
<line x1="271.55" y1="280.5" x2="271.55" y2="282.5" stroke="#7a7a7a" stroke-width="0.85"/>
<text x="271.55" y="288.1" text-anchor="middle" class="tk">10</text>
<line x1="285.85" y1="280.5" x2="285.85" y2="282.5" stroke="#7a7a7a" stroke-width="0.85"/>
<text x="285.85" y="288.1" text-anchor="middle" class="tk">12</text>
<line x1="300.15" y1="280.5" x2="300.15" y2="282.5" stroke="#7a7a7a" stroke-width="0.85"/>
<text x="300.15" y="288.1" text-anchor="middle" class="tk">14</text>
<line x1="314.45" y1="280.5" x2="314.45" y2="282.5" stroke="#7a7a7a" stroke-width="0.85"/>
<text x="314.45" y="288.1" text-anchor="middle" class="tk">16</text>
<line x1="328.75" y1="280.5" x2="328.75" y2="282.5" stroke="#7a7a7a" stroke-width="0.85"/>
<text x="328.75" y="288.1" text-anchor="middle" class="tk">18</text>
<line x1="343.05" y1="280.5" x2="343.05" y2="282.5" stroke="#7a7a7a" stroke-width="0.85"/>
<text x="343.05" y="288.1" text-anchor="middle" class="tk">20</text>
<text transform="translate(275.7,295.8) scale(1,1.12)" text-anchor="middle" class="al" style="font-size:6.6px">Epoch</text>
<text x="274.85" y="303.4" text-anchor="middle" class="cap">(e)</text>
<text transform="translate(186.6,227.3) rotate(-90)" text-anchor="middle" class="al">Loss</text>
<rect x="314.4" y="161.5" width="33.6" height="20.9" rx="1" fill="#fff" fill-opacity="0.85" stroke="#d6d6d6" stroke-width="0.6"/>
<line x1="316.1" y1="165.4" x2="324.9" y2="165.4" stroke="#1f77b4" stroke-width="1.1"/>
<circle cx="320.5" cy="165.4" r="1.55" fill="#1f77b4"/>
<text x="329" y="167.2" class="lg">Model 1</text>
<line x1="316.1" y1="171.75" x2="324.9" y2="171.75" stroke="#ff7f0e" stroke-width="1.1"/>
<circle cx="320.5" cy="171.75" r="1.55" fill="#ff7f0e"/>
<text x="329" y="173.55" class="lg">Model 2</text>
<line x1="316.1" y1="178.1" x2="324.9" y2="178.1" stroke="#2ca02c" stroke-width="1.1"/>
<circle cx="320.5" cy="178.1" r="1.55" fill="#2ca02c"/>
<text x="329" y="179.9" class="lg">Model 3</text>
<rect x="396" y="9.1" width="145.8" height="94.5" fill="#eaeaf2"/>
<line x1="425.16" y1="9.1" x2="425.16" y2="103.6" stroke="#fff" stroke-opacity="0.7" stroke-width="1"/>
<line x1="396" y1="85.6" x2="541.8" y2="85.6" stroke="#fff" stroke-opacity="0.7" stroke-width="1"/>
<line x1="454.32" y1="9.1" x2="454.32" y2="103.6" stroke="#fff" stroke-opacity="0.7" stroke-width="1"/>
<line x1="396" y1="67.6" x2="541.8" y2="67.6" stroke="#fff" stroke-opacity="0.7" stroke-width="1"/>
<line x1="483.48" y1="9.1" x2="483.48" y2="103.6" stroke="#fff" stroke-opacity="0.7" stroke-width="1"/>
<line x1="396" y1="49.6" x2="541.8" y2="49.6" stroke="#fff" stroke-opacity="0.7" stroke-width="1"/>
<line x1="512.64" y1="9.1" x2="512.64" y2="103.6" stroke="#fff" stroke-opacity="0.7" stroke-width="1"/>
<line x1="396" y1="31.6" x2="541.8" y2="31.6" stroke="#fff" stroke-opacity="0.7" stroke-width="1"/>
<line x1="396" y1="13.6" x2="541.8" y2="13.6" stroke="#fff" stroke-opacity="0.7" stroke-width="1"/>
<line x1="396" y1="103.6" x2="541.8" y2="13.6" stroke="#2a2a2a" stroke-width="0.7" stroke-dasharray="2 0.6"/>
<polyline points="396,103.6 397.31,40.6 400.08,17.2 401.25,14.95 541.8,13.6" fill="none" stroke="#4c72b0" stroke-width="1.4" stroke-dasharray="4.4 2.4"/>
<polyline points="396,103.6 397.17,36.1 399.35,17.2 399.79,15.4 541.8,13.6" fill="none" stroke="#dd8452" stroke-width="1.4" stroke-dasharray="4.4 2.4"/>
<polyline points="396,103.6 396.87,16.03 400.37,14.41 541.8,13.6" fill="none" stroke="#55a868" stroke-width="1.4" stroke-dasharray="4.4 2.4"/>
<text x="391.8" y="106" text-anchor="end" class="rt">0.0</text>
<text x="395.7" y="113.2" text-anchor="middle" class="rt">0.0</text>
<text x="391.8" y="88" text-anchor="end" class="rt">0.2</text>
<text x="424.86" y="113.2" text-anchor="middle" class="rt">0.2</text>
<text x="391.8" y="70" text-anchor="end" class="rt">0.4</text>
<text x="454.02" y="113.2" text-anchor="middle" class="rt">0.4</text>
<text x="391.8" y="52" text-anchor="end" class="rt">0.6</text>
<text x="483.18" y="113.2" text-anchor="middle" class="rt">0.6</text>
<text x="391.8" y="34" text-anchor="end" class="rt">0.8</text>
<text x="512.34" y="113.2" text-anchor="middle" class="rt">0.8</text>
<text x="391.8" y="16" text-anchor="end" class="rt">1.0</text>
<text x="541.5" y="113.2" text-anchor="middle" class="rt">1.0</text>
<text x="468.6" y="120.5" text-anchor="middle" class="ra">False Positive Rate</text>
<text transform="translate(379.1,56.35) rotate(-90)" text-anchor="middle" class="ra">True Positive Rate</text>
<rect x="397.8" y="68.8" width="94.6" height="29.8" rx="1.2" fill="#f0f0f5" stroke="#dcdce4" stroke-width="0.5"/>
<line x1="401.7" y1="74.4" x2="413.9" y2="74.4" stroke="#4c72b0" stroke-width="1.25" stroke-dasharray="4.6 2.6"/>
<text x="420.4" y="76.8" class="rl">Model 1 (AUC = 98.26)</text>
<line x1="401.7" y1="83.8" x2="413.9" y2="83.8" stroke="#dd8452" stroke-width="1.25" stroke-dasharray="4.6 2.6"/>
<text x="420.4" y="86.2" class="rl">Model 2 (AUC = 97.97)</text>
<line x1="401.7" y1="93.2" x2="413.9" y2="93.2" stroke="#55a868" stroke-width="1.25" stroke-dasharray="4.6 2.6"/>
<text x="420.4" y="95.6" class="rl">Model 3 (AUC = 98.89)</text>
<text x="473.3" y="146.3" text-anchor="middle" class="cap2">(c)</text>
<rect x="397.2" y="162.5" width="145.5" height="94.39" fill="#eaeaf2"/>
<line x1="426.3" y1="162.5" x2="426.3" y2="256.9" stroke="#fff" stroke-opacity="0.7" stroke-width="1"/>
<line x1="397.2" y1="238.92" x2="542.7" y2="238.92" stroke="#fff" stroke-opacity="0.7" stroke-width="1"/>
<line x1="455.4" y1="162.5" x2="455.4" y2="256.9" stroke="#fff" stroke-opacity="0.7" stroke-width="1"/>
<line x1="397.2" y1="220.94" x2="542.7" y2="220.94" stroke="#fff" stroke-opacity="0.7" stroke-width="1"/>
<line x1="484.5" y1="162.5" x2="484.5" y2="256.9" stroke="#fff" stroke-opacity="0.7" stroke-width="1"/>
<line x1="397.2" y1="202.96" x2="542.7" y2="202.96" stroke="#fff" stroke-opacity="0.7" stroke-width="1"/>
<line x1="513.6" y1="162.5" x2="513.6" y2="256.9" stroke="#fff" stroke-opacity="0.7" stroke-width="1"/>
<line x1="397.2" y1="184.98" x2="542.7" y2="184.98" stroke="#fff" stroke-opacity="0.7" stroke-width="1"/>
<line x1="397.2" y1="167" x2="542.7" y2="167" stroke="#fff" stroke-opacity="0.7" stroke-width="1"/>
<line x1="397.2" y1="256.9" x2="542.7" y2="167" stroke="#2a2a2a" stroke-width="0.7" stroke-dasharray="2 0.6"/>
<polyline points="397.2,256.9 398.22,202.96 400.98,170.6 402.29,168.35 542.7,167" fill="none" stroke="#4c72b0" stroke-width="1.4" stroke-dasharray="4.4 2.4"/>
<polyline points="397.2,256.9 398.07,198.46 399.24,170.6 401.56,168.35 542.7,167" fill="none" stroke="#dd8452" stroke-width="1.4" stroke-dasharray="4.4 2.4"/>
<polyline points="397.2,256.9 397.93,170.15 400.98,167.9 542.7,167" fill="none" stroke="#55a868" stroke-width="1.4" stroke-dasharray="4.4 2.4"/>
<text x="393" y="259.3" text-anchor="end" class="rt">0.0</text>
<text x="396.9" y="266.5" text-anchor="middle" class="rt">0.0</text>
<text x="393" y="241.32" text-anchor="end" class="rt">0.2</text>
<text x="426" y="266.5" text-anchor="middle" class="rt">0.2</text>
<text x="393" y="223.34" text-anchor="end" class="rt">0.4</text>
<text x="455.1" y="266.5" text-anchor="middle" class="rt">0.4</text>
<text x="393" y="205.36" text-anchor="end" class="rt">0.6</text>
<text x="484.2" y="266.5" text-anchor="middle" class="rt">0.6</text>
<text x="393" y="187.38" text-anchor="end" class="rt">0.8</text>
<text x="513.3" y="266.5" text-anchor="middle" class="rt">0.8</text>
<text x="393" y="169.4" text-anchor="end" class="rt">1.0</text>
<text x="542.4" y="266.5" text-anchor="middle" class="rt">1.0</text>
<text x="469.65" y="273.8" text-anchor="middle" class="ra">False Positive Rate</text>
<text transform="translate(380.3,209.7) rotate(-90)" text-anchor="middle" class="ra">True Positive Rate</text>
<rect x="399" y="222.6" width="93.4" height="29.6" rx="1.2" fill="#f0f0f5" stroke="#dcdce4" stroke-width="0.5"/>
<line x1="402.9" y1="228.2" x2="415.1" y2="228.2" stroke="#4c72b0" stroke-width="1.25" stroke-dasharray="4.6 2.6"/>
<text x="421.6" y="230.6" class="rl">Model 1 (AUC = 97.39)</text>
<line x1="402.9" y1="237.6" x2="415.1" y2="237.6" stroke="#dd8452" stroke-width="1.25" stroke-dasharray="4.6 2.6"/>
<text x="421.6" y="240" class="rl">Model 2 (AUC = 97.61)</text>
<line x1="402.9" y1="247" x2="415.1" y2="247" stroke="#55a868" stroke-width="1.25" stroke-dasharray="4.6 2.6"/>
<text x="421.6" y="249.4" class="rl">Model 3 (AUC = 98.69)</text>
<text x="473.3" y="300.4" text-anchor="middle" class="cap2">(f)</text>
</svg>
</body></html>
